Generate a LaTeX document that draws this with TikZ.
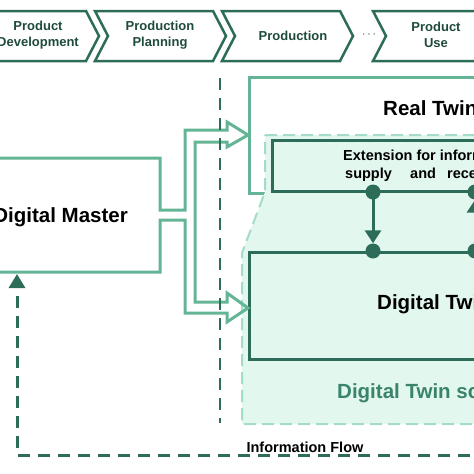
\documentclass[tikz,border=0pt]{standalone}
\usepackage{fontspec}
\setmainfont{Liberation Sans}
\usetikzlibrary{arrows.meta}
\definecolor{dkg}{RGB}{44,108,88}
\definecolor{ltg}{RGB}{100,180,150}
\definecolor{fillg}{RGB}{226,247,238}
\definecolor{scopeb}{RGB}{165,220,200}
\definecolor{scopet}{RGB}{58,132,108}
\begin{document}
\begin{tikzpicture}[x=1pt,y=-1pt,line join=miter,
  chev/.style={draw=dkg,line width=2.5pt,fill=white},
  chevtxt/.style={font=\bfseries\fontsize{13}{15.5}\selectfont,align=center,text=dkg!70!black,inner sep=0pt},
  bigtxt/.style={font=\bfseries\fontsize{20.5}{23}\selectfont,inner sep=0pt},
  exttxt/.style={font=\bfseries\fontsize{14.5}{17}\selectfont,anchor=base west,inner sep=0pt},
  dkbox/.style={draw=dkg,line width=3pt,fill=fillg},
  ltline/.style={draw=ltg,line width=3pt},
  dashline/.style={draw=dkg,line width=3pt,dash pattern=on 12pt off 8pt},
  vtip/.style={-{Triangle[width=16pt,length=13pt]}},
  dot/.style={circle,fill=dkg,minimum size=15pt,inner sep=0pt}]
\useasboundingbox (0,0) rectangle (474,474);
\clip (0,0) rectangle (474,474);
% process chevrons
\draw[chev] (-40,11) -- (86,11) -- (99,36) -- (86,61) -- (-40,61) -- cycle;
\draw[chev] (95,11) -- (213,11) -- (226,36) -- (213,61) -- (95,61) -- (108,36) -- cycle;
\draw[chev] (222,11) -- (340,11) -- (353,36) -- (340,61) -- (222,61) -- (235,36) -- cycle;
\draw[chev] (373,11) -- (500,11) -- (513,36) -- (500,61) -- (373,61) -- (386,36) -- cycle;
\node[chevtxt] (c1) at (38,35) {Product\\Development};
\node[chevtxt] (c2) at (160,35) {Production\\Planning};
\node[chevtxt] (c3) at (293,36) {Production};
\node[chevtxt] (c4) at (436,35) {Product\\Use};
\node[chevtxt] (dots) at (369,35) {$\cdots$};
% real twin
\draw[ltline,fill=white] (249,77) rectangle (530,193);
\node[bigtxt,anchor=west] (rt) at (383,108) {Real Twin};
% digital twin scope
\draw[draw=scopeb,line width=2pt,dash pattern=on 12pt off 6pt,fill=fillg]
  (265,135) -- (530,135) -- (530,424) -- (242,424) -- (242,253) -- (265,192) -- cycle;
% extension box
\draw[dkbox] (272,140) rectangle (530,191);
\node[exttxt] (ext1) at (343,160) {Extension for information};
\node[exttxt] (ext2) at (345,178) {supply};
\node[exttxt] (ext3) at (410,178) {and};
\node[exttxt] (ext4) at (447,178) {reception};
% digital twin box
\draw[dkbox] (249,252) rectangle (530,359);
\node[bigtxt,anchor=west] (dt) at (377,304) {Digital Twin};
\node[font=\bfseries\fontsize{20.5}{23}\selectfont,text=scopet,anchor=west,inner sep=0pt] (scope) at (337,393) {Digital Twin scope};
% connections between extension and digital twin
\node[dot] (d1) at (373,192) {};
\node[dot] (d2) at (373,251) {};
\node[dot] (d3) at (475,192) {};
\node[dot] (d4) at (475,251) {};
\draw[dkg,line width=3pt,vtip] (d1.center) -- (d2.north);
\draw[dkg,line width=3pt,vtip] (d4.center) -- (d3.south);
% digital master with branching hollow arrow
\draw[ltline] (-10,158) -- (160,158) -- (160,210) -- (185,210) -- (185,130) -- (227,130) -- (227,122)
  -- (248,135) -- (227,147) -- (227,142) -- (195,142) -- (195,302) -- (227,302) -- (227,293)
  -- (248,308) -- (227,322) -- (227,313) -- (185,313) -- (185,220) -- (160,220) -- (160,272) -- (-10,272);
\node[bigtxt,anchor=east] (dm) at (128,217) {Digital Master};
% vertical dashed divider
\coordinate (vtop) at (220,78);
\coordinate (vbot) at (220,423);
\draw[dashline,line width=2.5pt] (vtop) -- (vbot);
% information flow
\coordinate (fr) at (530,455);
\coordinate (fc) at (17,455);
\draw[dashline,-{Triangle[width=16pt,length=14pt]}] (fr) -- (fc) -- (17,274);
\node[font=\bfseries\fontsize{14.5}{17}\selectfont,inner sep=0pt] (info) at (305,447) {Information Flow};
\end{tikzpicture}
\end{document}
